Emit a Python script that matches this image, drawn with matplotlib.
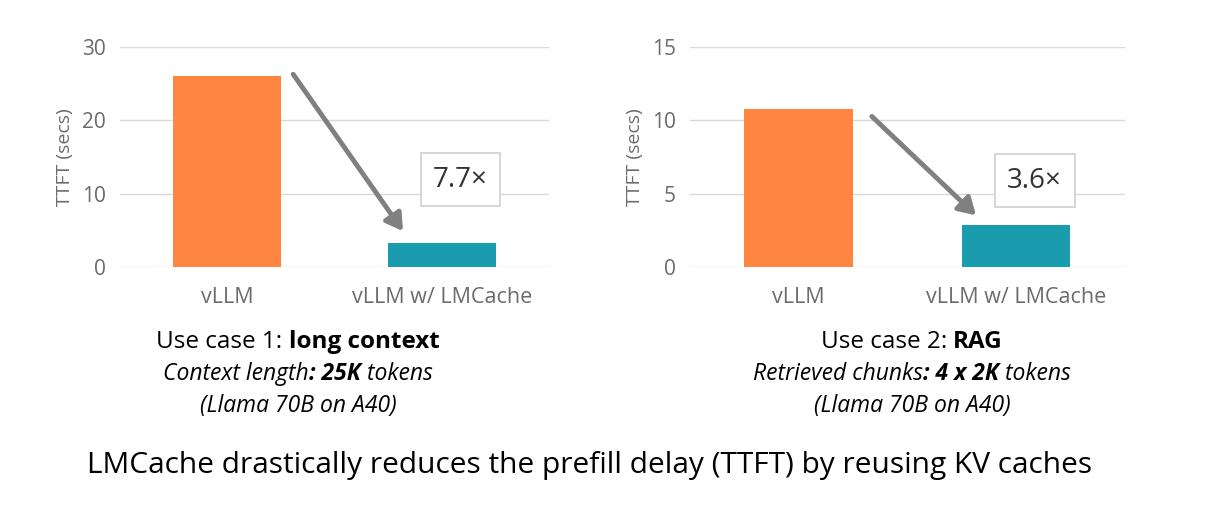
import matplotlib
matplotlib.use("Agg")
import matplotlib.pyplot as plt

categories = ["vLLM", "vLLM w/ LMCache"]
ttft_long = [26.0, 3.3]
ttft_rag = [10.8, 2.9]
speedups = ["7.7×", "3.6×"]
colors = ["#FF8640", "#1A9BAE"]

plt.rcParams['font.family'] = ['Open Sans', 'DejaVu Sans']
fig = plt.figure(figsize=(12.21, 5.28), dpi=100)

def panel(rect, vals, ymax, step, label, arrow, box):
    ax = fig.add_axes(rect)
    ax.bar([0, 1], vals, width=0.5, color=colors, zorder=3)
    ax.set_xlim(-0.5, 1.5)
    ax.set_ylim(0, ymax)
    ax.set_yticks(range(0, ymax + 1, step))
    ax.set_xticks([0, 1])
    ax.set_xticklabels(categories)
    ax.tick_params(length=0, labelsize=15.5, colors="#6b6b6b", pad=14)
    ax.tick_params(axis='y', labelsize=15, pad=10)
    ax.grid(axis='y', color="#d9d9d9", lw=1, zorder=0)
    for s in ax.spines.values():
        s.set_visible(False)
    ax.set_ylabel("TTFT (secs)", fontsize=14, color="#6b6b6b", labelpad=6)
    ax.annotate("", xy=arrow[1], xytext=arrow[0],
                arrowprops=dict(arrowstyle="-|>,head_width=0.6,head_length=1.0",
                                color="#808080", lw=3.5), zorder=4)
    ax.text(box[0], box[1], label, ha="center", va="center", fontsize=20, color="#333333",
            bbox=dict(boxstyle="square,pad=0.45", fc="white", ec="#d0d0d0", lw=1.2), zorder=5)
    return ax

panel([0.098, 0.494, 0.352, 0.417], ttft_long, 30, 10, speedups[0],
      ((0.30, 26.6), (0.826, 4.6)), (1.086, 11.9))
panel([0.565, 0.494, 0.356, 0.417], ttft_rag, 15, 5, speedups[1],
      ((0.328, 10.4), (0.826, 3.4)), (1.086, 5.9))

renderer = fig.canvas.get_renderer()

def rich_line(cx, y, pieces, size):
    texts = []
    for s, kw in pieces:
        t = fig.text(0, y, s, ha="left", va="center", fontsize=size, **kw)
        texts.append(t)
    widths = [t.get_window_extent(renderer).width / fig.bbox.width for t in texts]
    x = cx - sum(widths) / 2
    for t, w in zip(texts, widths):
        t.set_x(x)
        x += w

y1, y2, y3 = 1 - 342/528, 1 - 374/528, 1 - 406/528
it = dict(style="italic")
itb = dict(style="italic", weight="bold")
rich_line(298/1221, y1, [("Use case 1: ", {}), ("long context", dict(weight="bold"))], 17.5)
rich_line(298/1221, y2, [("Context length", it), (": 25K", itb), (" tokens", it)], 16.5)
rich_line(298/1221, y3, [("(Llama 70B on A40)", it)], 16.5)
rich_line(912/1221, y1, [("Use case 2: ", {}), ("RAG", dict(weight="bold"))], 17.5)
rich_line(912/1221, y2, [("Retrieved chunks", it), (": 4 x 2K", itb), (" tokens", it)], 16.5)
rich_line(912/1221, y3, [("(Llama 70B on A40)", it)], 16.5)

fig.text(590/1221, 1 - 466/528, "LMCache drastically reduces the prefill delay (TTFT) by reusing KV caches",
         ha="center", va="center", fontsize=21.5)

fig.savefig("out.png", dpi=100)
